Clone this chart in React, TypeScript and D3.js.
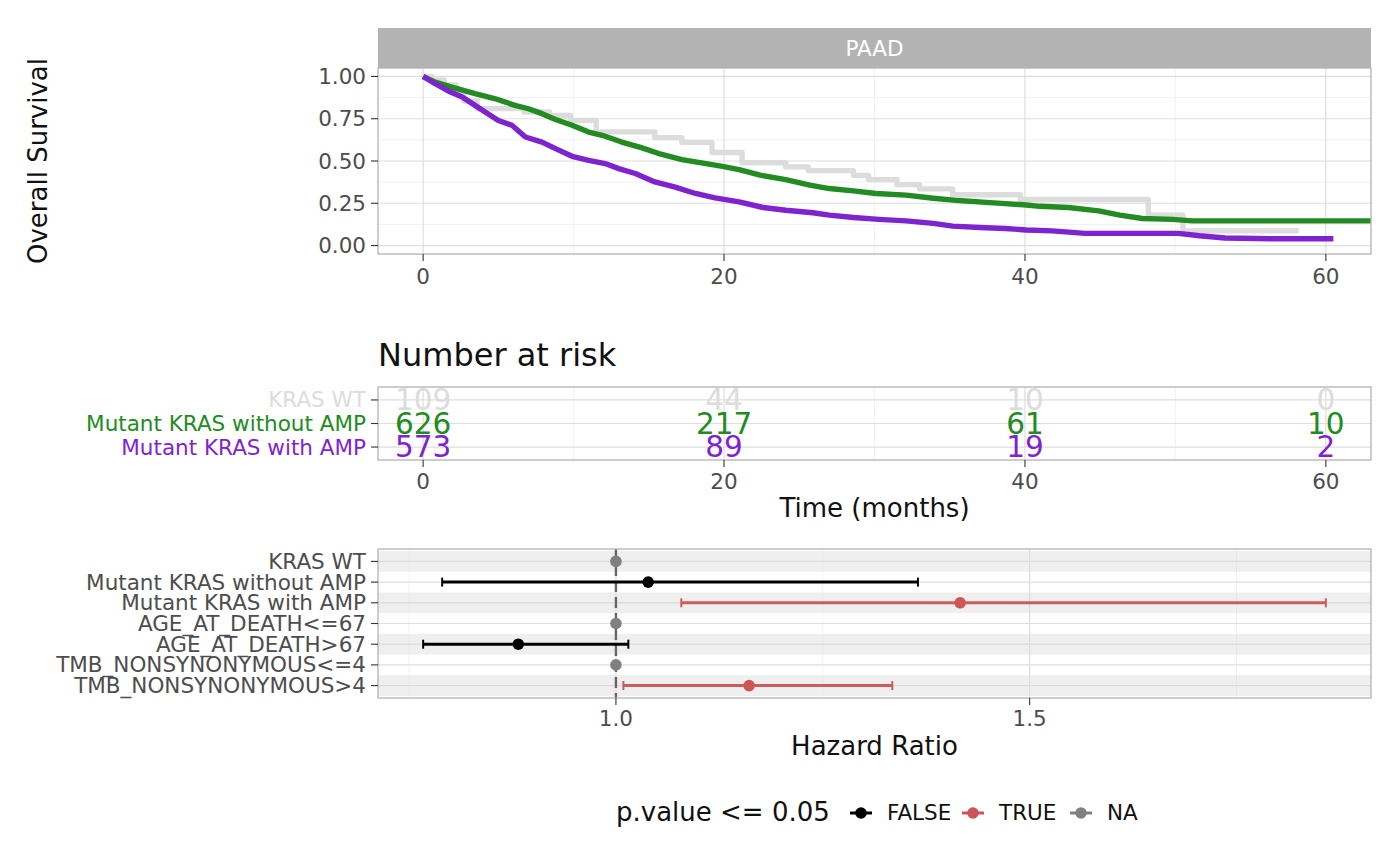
import React from "react";
import * as d3 from "d3";

// ---- survival curves (months, survival probability) ----
const wtTime = [0, 0.6, 1.4, 2.2, 2.7, 3.6, 6.7, 8.4, 9.8, 11.5, 15.4, 17.2, 19.2, 21.2, 24.1, 25.6, 28.6, 29.6, 31.5, 33.0, 35.2, 39.7, 48.2, 50.5, 58.2];
const wtSurv = [1.0, 0.98, 0.95, 0.9, 0.855, 0.81, 0.79, 0.77, 0.74, 0.672, 0.638, 0.61, 0.55, 0.49, 0.465, 0.443, 0.415, 0.39, 0.36, 0.335, 0.3, 0.272, 0.18, 0.087, 0.087];

const noAmpTime = [0, 0.8, 1.9, 3.45, 4.8, 6.1, 7.0, 7.9, 8.8, 9.9, 11.0, 11.9, 13.2, 14.5, 15.8, 17.2, 18.5, 19.8, 21.0, 22.4, 24.1, 25.7, 27.0, 28.6, 30.1, 32.1, 33.9, 35.6, 37.4, 38.7, 40.1, 41.0, 42.9, 44.9, 46.3, 47.8, 49.8, 51.1, 70];
const noAmpSurv = [1.0, 0.966, 0.937, 0.898, 0.868, 0.829, 0.809, 0.78, 0.745, 0.711, 0.671, 0.652, 0.612, 0.579, 0.54, 0.508, 0.489, 0.47, 0.449, 0.416, 0.39, 0.357, 0.337, 0.323, 0.308, 0.298, 0.28, 0.266, 0.255, 0.248, 0.24, 0.232, 0.225, 0.205, 0.18, 0.16, 0.155, 0.146, 0.146];

const ampTime = [0, 0.8, 1.7, 2.6, 3.45, 4.3, 5.0, 5.9, 6.8, 7.9, 8.8, 9.9, 11.0, 12.1, 13.0, 14.1, 15.4, 16.7, 18.1, 19.4, 21.0, 22.6, 24.1, 25.9, 27.0, 28.6, 30.3, 32.1, 33.9, 35.2, 37.0, 38.7, 40.1, 41.8, 44.0, 50.2, 51.6, 53.3, 56.7, 60.5];
const ampSurv = [1.0, 0.957, 0.913, 0.878, 0.829, 0.78, 0.74, 0.711, 0.642, 0.612, 0.573, 0.528, 0.504, 0.485, 0.455, 0.426, 0.376, 0.347, 0.308, 0.282, 0.258, 0.225, 0.209, 0.194, 0.18, 0.166, 0.155, 0.146, 0.131, 0.115, 0.107, 0.101, 0.092, 0.087, 0.072, 0.072, 0.058, 0.045, 0.04, 0.04];

// ---- risk table ----
const groups = ["KRAS WT", "Mutant KRAS without AMP", "Mutant KRAS with AMP"];
const groupColors = ["#DCDCDC", "#228B22", "#7E24CF"];
const riskTimes = [0, 20, 40, 60];
const riskWT = [109, 44, 10, 0];
const riskNoAmp = [626, 217, 61, 10];
const riskAmp = [573, 89, 19, 2];

// ---- forest plot ----
const terms = ["KRAS WT", "Mutant KRAS without AMP", "Mutant KRAS with AMP", "AGE_AT_DEATH<=67", "AGE_AT_DEATH>67", "TMB_NONSYNONYMOUS<=4", "TMB_NONSYNONYMOUS>4"];
const hrEst = [1, 1.039, 1.416, 1, 0.882, 1, 1.161];
const hrLow = [1, 0.79, 1.079, 1, 0.767, 1, 1.009];
const hrHigh = [1, 1.365, 1.858, 1, 1.015, 1, 1.334];
const sig = ["NA", "FALSE", "TRUE", "NA", "FALSE", "NA", "TRUE"];
const sigLevels = ["FALSE", "TRUE", "NA"];
const sigColors: Record<string, string> = { FALSE: "#000000", TRUE: "#CD5555", NA: "#808080" };

const FONT = "DejaVu Sans";
const AXT = "#4D4D4D";
const GRID = "#DEDEDE";
const GRID_MINOR = "#EDEDED";
const BORDER = "#B3B3B3";
const SMALL = 21.5;
const TITLE = 26;

const PL = 378;
const PR = 1371;

const App: React.FC = () => {
  const xTime = d3.scaleLinear().domain([-3, 63]).range([PL, PR]);

  // survival panel
  const sTop = 68, sBot = 254;
  const ySurv = d3.scaleLinear().domain([-0.05, 1.05]).range([sBot, sTop]);
  const survTicks = [0, 0.25, 0.5, 0.75, 1];
  const survMinor = [0.125, 0.375, 0.625, 0.875];
  const timeMinor = [10, 30, 50];

  const curves = [
    { t: wtTime, s: wtSurv, color: groupColors[0], curve: d3.curveStepAfter },
    { t: noAmpTime, s: noAmpSurv, color: groupColors[1], curve: d3.curveLinear },
    { t: ampTime, s: ampSurv, color: groupColors[2], curve: d3.curveLinear },
  ];

  // risk panel
  const rTop = 387, rBot = 460;
  const yRisk = d3.scalePoint<string>().domain(groups).range([rTop, rBot]).padding(0.55);
  const riskRows = [riskWT, riskNoAmp, riskAmp];

  // forest panel
  const fTop = 549, fBot = 698;
  const yF = d3.scalePoint<string>().domain(terms).range([fTop, fBot]).padding(0.6);
  const step = yF.step();
  const lo = d3.min(hrLow)!, hi = d3.max(hrHigh)!;
  const pad = (hi - lo) * 0.05;
  const xHR = d3.scaleLinear().domain([lo - pad, hi + pad]).range([PL, PR]);
  const hrTicks = [1.0, 1.5];
  const hrMinor = [0.75, 1.25, 1.75];

  const cx = (PL + PR) / 2;

  return (
    <div style={{ position: "fixed", left: 0, top: 0 }}>
      <svg width={1400} height={865} style={{ display: "block", background: "white" }} fontFamily={FONT}>
        <defs>
          <clipPath id="survClip">
            <rect x={PL} y={sTop} width={PR - PL} height={sBot - sTop} />
          </clipPath>
        </defs>

        {/* ---------- survival panel ---------- */}
        <rect x={PL} y={28} width={PR - PL} height={sTop - 28} fill="#B3B3B3" />
        <text x={cx} y={48} fill="white" fontSize={SMALL} textAnchor="middle" dominantBaseline="central">PAAD</text>
        {survMinor.map((v) => (
          <line key={"sm" + v} x1={PL} x2={PR} y1={ySurv(v)} y2={ySurv(v)} stroke={GRID_MINOR} strokeWidth={0.7} />
        ))}
        {timeMinor.map((v) => (
          <line key={"tm" + v} x1={xTime(v)} x2={xTime(v)} y1={sTop} y2={sBot} stroke={GRID_MINOR} strokeWidth={0.7} />
        ))}
        {survTicks.map((v) => (
          <line key={"sg" + v} x1={PL} x2={PR} y1={ySurv(v)} y2={ySurv(v)} stroke={GRID} strokeWidth={1.2} />
        ))}
        {riskTimes.map((v) => (
          <line key={"tg" + v} x1={xTime(v)} x2={xTime(v)} y1={sTop} y2={sBot} stroke={GRID} strokeWidth={1.2} />
        ))}
        <g clipPath="url(#survClip)">
          {curves.map((c, i) => {
            const pts = c.t.map((t, j) => [t, c.s[j]] as [number, number]);
            const line = d3
              .line<[number, number]>()
              .x((d) => xTime(d[0]))
              .y((d) => ySurv(d[1]))
              .curve(c.curve);
            return <path key={i} d={line(pts) || ""} fill="none" stroke={c.color} strokeWidth={5.4} strokeLinejoin="round" />;
          })}
        </g>
        <rect x={PL} y={sTop} width={PR - PL} height={sBot - sTop} fill="none" stroke={BORDER} strokeWidth={1.3} />
        {survTicks.map((v) => (
          <g key={"sy" + v}>
            <line x1={PL - 7} x2={PL} y1={ySurv(v)} y2={ySurv(v)} stroke="#333" strokeWidth={1.1} />
            <text x={PL - 12} y={ySurv(v)} fill={AXT} fontSize={SMALL} textAnchor="end" dominantBaseline="central">
              {v.toFixed(2)}
            </text>
          </g>
        ))}
        {riskTimes.map((v) => (
          <g key={"sx" + v}>
            <line x1={xTime(v)} x2={xTime(v)} y1={sBot} y2={sBot + 7} stroke="#333" strokeWidth={1.1} />
            <text x={xTime(v)} y={276} fill={AXT} fontSize={SMALL} textAnchor="middle" dominantBaseline="central">{v}</text>
          </g>
        ))}
        <text transform={`translate(38, ${(sTop + sBot) / 2}) rotate(-90)`} fontSize={TITLE} textAnchor="middle" dominantBaseline="central" fill="#111">
          Overall Survival
        </text>

        {/* ---------- risk table ---------- */}
        <text x={PL} y={355} fontSize={32} dominantBaseline="central" fill="#111">Number at risk</text>
        {timeMinor.map((v) => (
          <line key={"rm" + v} x1={xTime(v)} x2={xTime(v)} y1={rTop} y2={rBot} stroke={GRID_MINOR} strokeWidth={0.7} />
        ))}
        {riskTimes.map((v) => (
          <line key={"rg" + v} x1={xTime(v)} x2={xTime(v)} y1={rTop} y2={rBot} stroke={GRID} strokeWidth={1.2} />
        ))}
        {groups.map((g) => (
          <line key={"rh" + g} x1={PL} x2={PR} y1={yRisk(g)!} y2={yRisk(g)!} stroke={GRID} strokeWidth={1.2} />
        ))}
        {groups.map((g, i) =>
          riskTimes.map((t, j) => (
            <text key={g + t} x={xTime(t)} y={yRisk(g)!} fill={groupColors[i]} fontSize={29.5} textAnchor="middle" dominantBaseline="central">
              {riskRows[i][j]}
            </text>
          ))
        )}
        <rect x={PL} y={rTop} width={PR - PL} height={rBot - rTop} fill="none" stroke={BORDER} strokeWidth={1.3} />
        {groups.map((g, i) => (
          <g key={"rl" + g}>
            <line x1={PL - 7} x2={PL} y1={yRisk(g)!} y2={yRisk(g)!} stroke="#333" strokeWidth={1.1} />
            <text x={PL - 12} y={yRisk(g)!} fill={groupColors[i]} fontSize={SMALL} textAnchor="end" dominantBaseline="central">{g}</text>
          </g>
        ))}
        {riskTimes.map((v) => (
          <g key={"rx" + v}>
            <line x1={xTime(v)} x2={xTime(v)} y1={rBot} y2={rBot + 7} stroke="#333" strokeWidth={1.1} />
            <text x={xTime(v)} y={481} fill={AXT} fontSize={SMALL} textAnchor="middle" dominantBaseline="central">{v}</text>
          </g>
        ))}
        <text x={cx} y={508} fontSize={TITLE} textAnchor="middle" dominantBaseline="central" fill="#111">Time (months)</text>

        {/* ---------- forest plot ---------- */}
        {hrMinor.map((v) => (
          <line key={"hm" + v} x1={xHR(v)} x2={xHR(v)} y1={fTop} y2={fBot} stroke={GRID_MINOR} strokeWidth={0.7} />
        ))}
        {hrTicks.map((v) => (
          <line key={"hg" + v} x1={xHR(v)} x2={xHR(v)} y1={fTop} y2={fBot} stroke={GRID} strokeWidth={1.2} />
        ))}
        {terms.map((t) => (
          <line key={"fh" + t} x1={PL} x2={PR} y1={yF(t)!} y2={yF(t)!} stroke={GRID} strokeWidth={1.2} />
        ))}
        {terms.map((t, i) =>
          i % 2 === 0 ? (
            <rect key={"st" + t} x={PL} y={yF(t)! - step / 2} width={PR - PL} height={step} fill="#DADADA" opacity={0.42} />
          ) : null
        )}
        <line x1={xHR(1)} x2={xHR(1)} y1={fTop} y2={fBot} stroke="#666" strokeWidth={2.4} strokeDasharray="11,5" />
        {terms.map((t, i) => {
          const y = yF(t)!;
          const col = sigColors[sig[i]];
          const hasBar = hrLow[i] !== hrHigh[i];
          return (
            <g key={"fp" + t}>
              {hasBar && (
                <g stroke={col} opacity={sig[i] === "TRUE" ? 0.95 : 1}>
                  <line x1={xHR(hrLow[i])} x2={xHR(hrHigh[i])} y1={y} y2={y} strokeWidth={3} />
                  <line x1={xHR(hrLow[i])} x2={xHR(hrLow[i])} y1={y - 4.5} y2={y + 4.5} strokeWidth={2} />
                  <line x1={xHR(hrHigh[i])} x2={xHR(hrHigh[i])} y1={y - 4.5} y2={y + 4.5} strokeWidth={2} />
                </g>
              )}
              <circle cx={xHR(hrEst[i])} cy={y} r={5.8} fill={col} />
            </g>
          );
        })}
        <rect x={PL} y={fTop} width={PR - PL} height={fBot - fTop} fill="none" stroke={BORDER} strokeWidth={1.3} />
        {terms.map((t) => (
          <g key={"fl" + t}>
            <line x1={PL - 7} x2={PL} y1={yF(t)!} y2={yF(t)!} stroke="#333" strokeWidth={1.1} />
            <text x={PL - 12} y={yF(t)!} fill={AXT} fontSize={SMALL} textAnchor="end" dominantBaseline="central">{t}</text>
          </g>
        ))}
        {hrTicks.map((v) => (
          <g key={"hx" + v}>
            <line x1={xHR(v)} x2={xHR(v)} y1={fBot} y2={fBot + 7} stroke="#333" strokeWidth={1.1} />
            <text x={xHR(v)} y={718} fill={AXT} fontSize={SMALL} textAnchor="middle" dominantBaseline="central">{v.toFixed(1)}</text>
          </g>
        ))}
        <text x={cx} y={746} fontSize={TITLE} textAnchor="middle" dominantBaseline="central" fill="#111">Hazard Ratio</text>

        {/* ---------- legend ---------- */}
        <text x={616} y={812} fontSize={TITLE} dominantBaseline="central" fill="#111">p.value &lt;= 0.05</text>
        {sigLevels.map((s, i) => {
          const kx = [861, 973, 1081][i];
          return (
            <g key={"lg" + s}>
              <line x1={kx - 11} x2={kx + 11} y1={813} y2={813} stroke={sigColors[s]} strokeWidth={3} />
              <circle cx={kx} cy={813} r={5.8} fill={sigColors[s]} />
              <text x={kx + 26} y={812} fontSize={SMALL} dominantBaseline="central" fill="#111">{s}</text>
            </g>
          );
        })}
      </svg>
    </div>
  );
};

export default App;
